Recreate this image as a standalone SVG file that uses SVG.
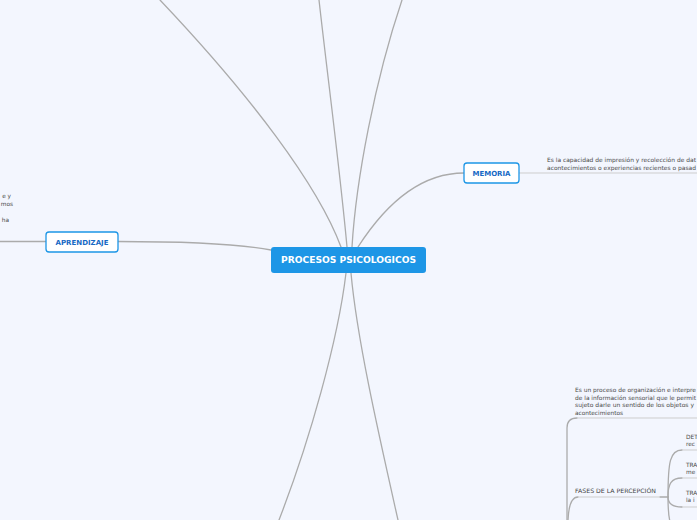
<svg xmlns="http://www.w3.org/2000/svg" width="697" height="520" viewBox="0 0 697 520">
<style>
.conn{fill:none;stroke:#ababab;stroke-width:1.3;stroke-linecap:round}
.uline{fill:none;stroke:#cdcdcd;stroke-width:1}
.topic{fill:#ffffff;stroke:#1d96e6;stroke-width:1.3}
.ttext{font-family:"DejaVu Sans",Verdana,sans-serif;font-weight:bold;font-size:7px;fill:#1769c4;text-anchor:middle}
.note{font-family:"DejaVu Sans",Verdana,sans-serif;font-size:5.8px;fill:#4a4a4a}
.sub{font-family:"DejaVu Sans",Verdana,sans-serif;font-size:6px;fill:#444444}
</style>
<rect x="0" y="0" width="697" height="520" fill="#f3f6fe"/>
<g id="connectors">
<path class="conn" d="M341,247 C318,185 250,95 160,0"/>
<path class="conn" d="M347,247 C340,170 328,80 319,0"/>
<path class="conn" d="M352,247 C356,180 375,80 402,0"/>
<path class="conn" d="M358,247 C385,205 420,173 464,173"/>
<path class="conn" d="M118,241.5 C180,241.5 240,244 271,250"/>
<path class="conn" d="M0,241.5 L46,241.5"/>
<path class="conn" d="M346,273 C338,340 310,440 279,520"/>
<path class="conn" d="M351,273 C357,340 380,440 398,520"/>
<path class="conn" d="M567,520 L567,428 Q567,418 577,418"/>
<path class="conn" d="M568,520 Q569,497 578,497"/>
<path class="conn" d="M660,497 L668,497"/>
<path class="conn" d="M668,497 C668,462 670,450 682,450"/>
<path class="conn" d="M668,497 C668,484 671,478 682,478"/>
<path class="conn" d="M668,497 C668,503 671,507 682,507"/>
<path class="conn" d="M668,497 C668,520 670,532 682,534"/>
</g>
<g id="memoria-note">
<line class="uline" x1="519" y1="173" x2="697" y2="173"/>
<text class="note" x="547" y="162" textLength="149" lengthAdjust="spacingAndGlyphs">Es la capacidad de impresión y recolección de dat</text>
<text class="note" x="547" y="169.5" textLength="149" lengthAdjust="spacingAndGlyphs">acontecimientos o experiencias recientes o pasad</text>
</g>
<g id="aprendizaje-note">
<text class="note" x="11" y="198" text-anchor="end">e y</text>
<text class="note" x="13" y="205.5" text-anchor="end">mos</text>
<text class="note" x="9" y="222" text-anchor="end">ha</text>
</g>
<g id="percepcion-note">
<line class="uline" x1="577" y1="418" x2="697" y2="418"/>
<text class="note" x="575" y="392" textLength="121" lengthAdjust="spacingAndGlyphs">Es un proceso de organización e interpre</text>
<text class="note" x="575" y="399.5" textLength="121" lengthAdjust="spacingAndGlyphs">de la información sensorial que le permit</text>
<text class="note" x="575" y="407" textLength="119" lengthAdjust="spacingAndGlyphs">sujeto darle un sentido de los objetos y</text>
<text class="note" x="575" y="414.5" textLength="48" lengthAdjust="spacingAndGlyphs">acontecimientos</text>
</g>
<g id="fases">
<line class="uline" x1="578" y1="497" x2="660" y2="497"/>
<text class="sub" x="575" y="492.5" textLength="81" lengthAdjust="spacingAndGlyphs">FASES DE LA PERCEPCIÓN</text>
</g>
<g id="fase1">
<line class="uline" x1="682" y1="450" x2="697" y2="450"/>
<text class="note" x="686" y="438.5">DET</text>
<text class="note" x="686" y="446">rec</text>
</g>
<g id="fase2">
<line class="uline" x1="682" y1="478" x2="697" y2="478"/>
<text class="note" x="686" y="466.5">TRA</text>
<text class="note" x="686" y="474">me</text>
</g>
<g id="fase3">
<line class="uline" x1="682" y1="507" x2="697" y2="507"/>
<text class="note" x="686" y="494.5">TRA</text>
<text class="note" x="686" y="502">la i</text>
</g>
<g id="memoria">
<rect class="topic" x="464" y="163" width="55" height="20" rx="3"/>
<text class="ttext" x="491.5" y="175.5">MEMORIA</text>
</g>
<g id="aprendizaje">
<rect class="topic" x="46" y="232" width="72" height="20" rx="3"/>
<text class="ttext" x="82" y="244.5">APRENDIZAJE</text>
</g>
<g id="procesos">
<rect x="271" y="247" width="155" height="26" rx="3" fill="#1d96e6"/>
<text x="348.5" y="263.2" font-family="'DejaVu Sans',Verdana,sans-serif" font-weight="bold" font-size="9" fill="#ffffff" text-anchor="middle" textLength="135" lengthAdjust="spacingAndGlyphs">PROCESOS PSICOLOGICOS</text>
</g>
</svg>
